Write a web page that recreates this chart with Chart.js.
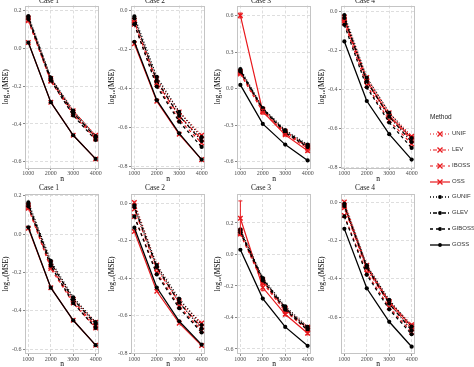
<!DOCTYPE html>
<html>
<head>
<meta charset="utf-8">
<script src="https://cdn.jsdelivr.net/npm/chart.js@4.4.0/dist/chart.umd.min.js"></script>
<style>
  html, body { margin: 0; padding: 0; background: #fff; }
  body { position: relative; width: 474px; height: 367px; overflow: hidden; }
  canvas { position: absolute; }
  .lg-title { position: absolute; left: 430px; top: 113px; font: 6.5px "Liberation Sans", Arial, sans-serif; color: #222; }
  .lg-item { position: absolute; left: 429px; height: 10px; }
  .lg-item svg { position: absolute; left: 0; top: 0; }
  .lg-item span { position: absolute; left: 23px; top: 1px; font: 6px "Liberation Sans", Arial, sans-serif; color: #333; white-space: nowrap; }
</style>
</head>
<body>
<script>
/* facet panels: top row = panels 0..3, bottom row = panels 4..7 (Case 1..4 each) */
const N_VALUES = [1000, 2000, 3000, 4000];
const CASES = ['Case 1', 'Case 2', 'Case 3', 'Case 4'];
const METHODS = ['UNIF', 'LEV', 'IBOSS', 'OSS', 'GUNIF', 'GLEV', 'GIBOSS', 'GOSS'];

// log10(MSE) per method, one row of 4 values per panel
const UNIF = [
  [0.16, -0.16, -0.33, -0.46], [-0.05, -0.35, -0.52, -0.64], [0.14, -0.17, -0.35, -0.47], [-0.03, -0.34, -0.52, -0.64],
  [0.15, -0.15, -0.34, -0.46], [0.005, -0.33, -0.52, -0.64], [0.15, -0.16, -0.34, -0.46], [0.0, -0.33, -0.52, -0.64]
];
const LEV = [
  [0.15, -0.17, -0.34, -0.47], [-0.06, -0.37, -0.54, -0.66], [0.13, -0.18, -0.36, -0.48], [-0.05, -0.36, -0.54, -0.66],
  [0.14, -0.17, -0.35, -0.48], [-0.03, -0.35, -0.53, -0.66], [0.14, -0.17, -0.35, -0.47], [-0.03, -0.35, -0.53, -0.66]
];
const IBOSS = [
  [0.145, -0.175, -0.35, -0.48], [-0.07, -0.38, -0.56, -0.68], [0.12, -0.19, -0.37, -0.49], [-0.06, -0.38, -0.56, -0.68],
  [0.135, -0.18, -0.36, -0.49], [-0.07, -0.37, -0.55, -0.68], [0.13, -0.18, -0.36, -0.48], [-0.07, -0.37, -0.55, -0.68]
];
const OSS = [
  [0.03, -0.285, -0.46, -0.585], [-0.17, -0.465, -0.635, -0.765], [0.6, -0.19, -0.38, -0.51], [-0.04, -0.355, -0.535, -0.65],
  [0.03, -0.28, -0.45, -0.58], [-0.15, -0.47, -0.64, -0.76], [0.23, -0.21, -0.38, -0.50], [-0.02, -0.34, -0.52, -0.65]
];
const GUNIF = [
  [0.17, -0.155, -0.33, -0.465], [-0.03, -0.34, -0.52, -0.65], [0.16, -0.16, -0.34, -0.46], [-0.02, -0.34, -0.52, -0.65],
  [0.165, -0.14, -0.33, -0.46], [-0.01, -0.33, -0.51, -0.65], [0.16, -0.15, -0.33, -0.46], [-0.01, -0.33, -0.51, -0.65]
];
const GLEV = [
  [0.165, -0.16, -0.34, -0.47], [-0.04, -0.36, -0.54, -0.67], [0.15, -0.165, -0.35, -0.47], [-0.035, -0.36, -0.54, -0.67],
  [0.155, -0.15, -0.34, -0.47], [-0.02, -0.34, -0.53, -0.67], [0.15, -0.155, -0.34, -0.47], [-0.02, -0.34, -0.53, -0.67]
];
const GIBOSS = [
  [0.155, -0.17, -0.355, -0.485], [-0.07, -0.39, -0.57, -0.70], [0.14, -0.17, -0.36, -0.48], [-0.07, -0.39, -0.57, -0.70],
  [0.145, -0.165, -0.36, -0.49], [-0.07, -0.38, -0.56, -0.69], [0.14, -0.165, -0.35, -0.48], [-0.075, -0.38, -0.56, -0.69]
];
const GOSS = [
  [0.03, -0.285, -0.46, -0.585], [-0.16, -0.46, -0.63, -0.765], [0.03, -0.29, -0.46, -0.59], [-0.155, -0.46, -0.63, -0.76],
  [0.035, -0.28, -0.45, -0.58], [-0.13, -0.45, -0.63, -0.755], [0.03, -0.28, -0.46, -0.58], [-0.14, -0.45, -0.625, -0.755]
];
const SERIES = { UNIF, LEV, IBOSS, OSS, GUNIF, GLEV, GIBOSS, GOSS };

// OSS error bars [low, high] where they stick out (Case 3 panels)
const OSS_ERR_TOP_CASE3 = [[0.58, 0.62], [-0.21, -0.17], [-0.39, -0.37], [-0.52, -0.50]];
const OSS_ERR_BOTTOM_CASE3 = [[0.12, 0.34], [-0.23, -0.19], [-0.39, -0.37], [-0.51, -0.49]];

// axis ranges and tick labels per panel
const Y_MIN = [-0.633, -0.808, -0.652, -0.803, -0.626, -0.805, -0.632, -0.793];
const Y_MAX = [0.226, 0.026, 0.682, 0.029, 0.209, 0.05, 0.384, 0.042];
const Y_TICKS = [
  [0.2, 0.0, -0.2, -0.4, -0.6], [0.0, -0.2, -0.4, -0.6, -0.8], [0.6, 0.3, 0.0, -0.3, -0.6], [0.0, -0.2, -0.4, -0.6, -0.8],
  [0.2, 0.0, -0.2, -0.4, -0.6], [0.0, -0.2, -0.4, -0.6, -0.8], [0.2, 0.0, -0.2, -0.4, -0.6], [0.0, -0.2, -0.4, -0.6]
];

const RED = '#e8191d';
const BLACK = '#000000';
const SERIF = '"Liberation Serif", "Times New Roman", serif';
const DASHES = [[1, 2], [1, 2, 4, 2], [3, 3], []];

const PLOT_LEFT = [25, 131, 237, 341];

function styleFor(k) {
  const red = k < 4;
  return {
    borderColor: red ? RED : BLACK,
    backgroundColor: red ? RED : BLACK,
    borderWidth: red ? 1.2 : 1.3,
    borderDash: DASHES[k % 4],
    pointStyle: red ? 'crossRot' : 'circle',
    pointRadius: red ? 3.2 : 2.1,
    pointBorderWidth: red ? 1.4 : 0,
    pointBackgroundColor: red ? RED : BLACK,
    pointBorderColor: red ? RED : BLACK,
    tension: 0,
    order: 7 - k
  };
}

const framePlugin = {
  id: 'frame',
  beforeDatasetsDraw(chart) {
    const { ctx, chartArea: a } = chart;
    ctx.save();
    ctx.strokeStyle = '#c4c4c4';
    ctx.lineWidth = 1;
    ctx.strokeRect(Math.round(a.left) + 0.5, Math.round(a.top) + 0.5, Math.round(a.right - a.left) - 1, Math.round(a.bottom - a.top) - 1);
    ctx.restore();
  },
  afterDatasetsDraw(chart) {
    const { ctx, scales } = chart;
    chart.data.datasets.forEach(ds => {
      if (!ds.errBars) return;
      ctx.save();
      ctx.strokeStyle = ds.borderColor;
      ctx.lineWidth = 1;
      ds.errBars.forEach((e, j) => {
        const x = scales.x.getPixelForValue(N_VALUES[j]);
        const y0 = scales.y.getPixelForValue(e[0]);
        const y1 = scales.y.getPixelForValue(e[1]);
        ctx.beginPath();
        ctx.moveTo(x, y0); ctx.lineTo(x, y1);
        ctx.moveTo(x - 2, y0); ctx.lineTo(x + 2, y0);
        ctx.moveTo(x - 2, y1); ctx.lineTo(x + 2, y1);
        ctx.stroke();
      });
      ctx.restore();
    });
  }
};

function makePanel(i) {
  const row = i < 4 ? 0 : 1;
  const col = i % 4;
  const canvas = document.createElement('canvas');
  const top = row ? 176 : -8;
  const height = row ? 193 : 192;
  const left = PLOT_LEFT[col] - 26;
  canvas.width = 112; canvas.height = height;
  canvas.style.left = left + 'px'; canvas.style.top = top + 'px';
  canvas.style.width = '112px'; canvas.style.height = height + 'px';
  document.body.appendChild(canvas);

  const datasets = METHODS.map((m, k) => {
    const ds = Object.assign({ label: m, data: N_VALUES.map((n, j) => ({ x: n, y: SERIES[m][i][j] })) }, styleFor(k));
    if (m === 'OSS' && col === 2) ds.errBars = row ? OSS_ERR_BOTTOM_CASE3 : OSS_ERR_TOP_CASE3;
    return ds;
  });

  const tickFont = { family: SERIF, size: 6 };
  const titleFont = { family: SERIF, size: 7.5 };
  const grid = { color: '#d6d6d6', lineWidth: 0.8, tickColor: '#555', tickLength: 2, tickWidth: 0.7 };
  const border = { display: false, dash: [3, 2] };

  new Chart(canvas, {
    type: 'line',
    data: { datasets },
    options: {
      animation: false,
      responsive: false,
      devicePixelRatio: 1,
      layout: { padding: { left: 0, right: 12, top: 0, bottom: 0 } },
      plugins: {
        legend: { display: false },
        tooltip: { enabled: false },
        title: {
          display: true, text: CASES[col], color: '#1a1a1a',
          font: { family: SERIF, size: 7.5, weight: 'normal' },
          padding: row ? { top: 7.5, bottom: 1.5 } : { top: 4.5, bottom: 0 }
        }
      },
      scales: {
        x: {
          type: 'linear', min: 850, max: 4150,
          afterBuildTicks: s => { s.ticks = N_VALUES.map(v => ({ value: v })); },
          afterFit: s => { s.height = row ? 15 : 16; },
          ticks: { font: tickFont, color: '#4d4d4d', padding: 0, maxRotation: 0, autoSkip: false, callback: v => String(v) },
          grid, border,
          title: { display: true, text: 'n', font: titleFont, color: '#000', padding: 0 }
        },
        y: {
          type: 'linear', min: Y_MIN[i], max: Y_MAX[i],
          afterBuildTicks: s => { s.ticks = Y_TICKS[i].map(v => ({ value: v })); },
          afterFit: s => { s.width = 26; },
          ticks: { font: tickFont, color: '#4d4d4d', padding: 1.5, callback: v => v.toFixed(1) },
          grid, border,
          title: { display: true, text: 'log\u2081\u2080(MSE)', font: titleFont, color: '#000', padding: { top: 2.5, bottom: 0 } }
        }
      }
    },
    plugins: [framePlugin]
  });
}

for (let i = 0; i < 8; i++) makePanel(i);

// shared legend
function legendSvg(k) {
  const st = styleFor(k);
  const red = k < 4;
  const dash = st.borderDash.length ? ` stroke-dasharray="${st.borderDash.join(' ')}"` : '';
  const mark = red
    ? `<path d="M8.5 2.5 L13.5 7.5 M13.5 2.5 L8.5 7.5" stroke="${RED}" stroke-width="1.4"/>`
    : `<circle cx="11" cy="5" r="1.9" fill="${BLACK}"/>`;
  return `<svg width="22" height="10"><line x1="1" y1="5" x2="21" y2="5" stroke="${st.borderColor}" stroke-width="${st.borderWidth}"${dash}/>${mark}</svg>`;
}

const title = document.createElement('div');
title.className = 'lg-title';
title.textContent = 'Method';
document.body.appendChild(title);
METHODS.forEach((m, k) => {
  const item = document.createElement('div');
  item.className = 'lg-item';
  item.style.top = (129 + k * 15.85) + 'px';
  item.innerHTML = legendSvg(k) + `<span>${m}</span>`;
  document.body.appendChild(item);
});
</script>
</body>
</html>
